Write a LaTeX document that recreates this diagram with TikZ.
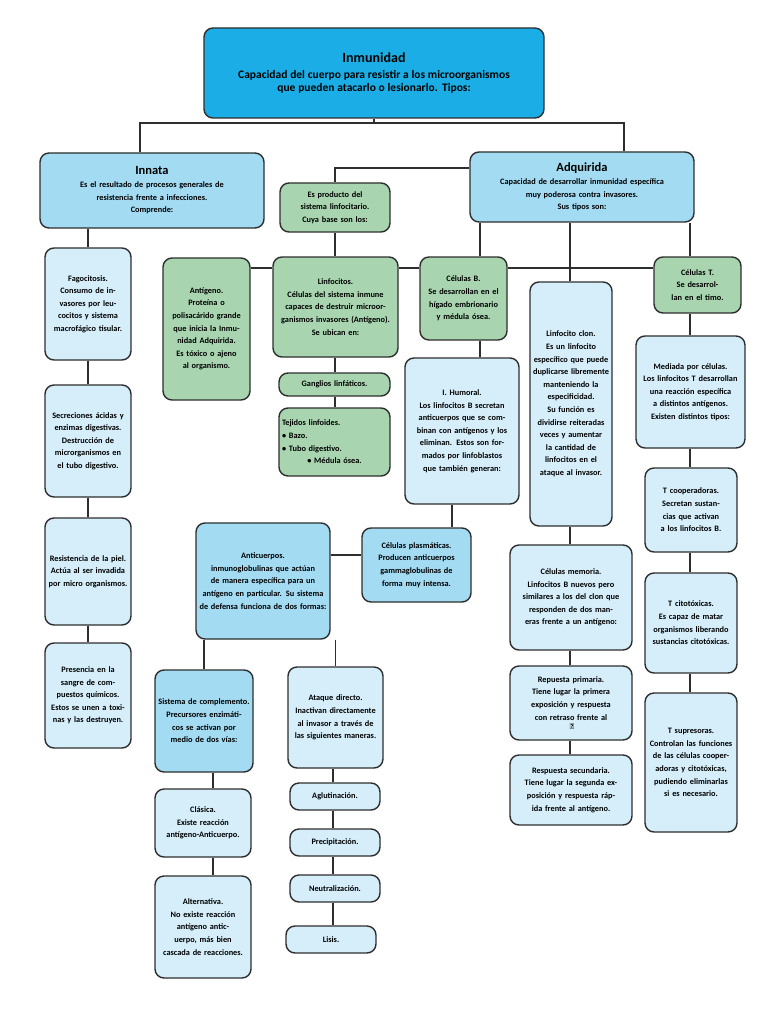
\documentclass[tikz,border=0pt]{standalone}
\usepackage{fontspec}
\setmainfont{Carlito}
\definecolor{top}{HTML}{1BAEE6}
\definecolor{mid}{HTML}{A3DBF2}
\definecolor{lt}{HTML}{D5EEFA}
\definecolor{grn}{HTML}{A8D5B0}
\definecolor{brd}{HTML}{2E2E2E}
\newcommand\bx[7]{\pgfmathsetmacro\tw{#4-#2-6}\node[box,fill=#6,minimum width={(#4-#2)*1pt},minimum height={(#5-#3)*1pt},text width=\tw pt] (#1) at ({(#2+#4)/2},{(#3+#5)/2}) {#7};}
\begin{document}
\begin{tikzpicture}[x=1pt,y=-1pt,
 box/.style={draw=brd,line width=1.4pt,rounded corners=9pt,align=center,inner sep=2pt,font=\bfseries\fontsize{8.3}{12.6}\selectfont},
 ln/.style={draw=brd,line width=1.3pt}]
\useasboundingbox (0,0) rectangle (768,1024);
\fill[white] (0,0) rectangle (768,1024);
\bx{imm}{204}{28}{544}{118}{top}{{\fontsize{14}{18}\selectfont Inmunidad}\\[2pt]{\fontsize{11.5}{14}\selectfont Capacidad del cuerpo para resistir a los microorganismos\\que pueden atacarlo o lesionarlo. Tipos:}}
\bx{inn}{40}{153}{264}{228}{mid}{{\fontsize{12.5}{15}\selectfont Innata}\\Es el resultado de procesos generales de\\resistencia frente a infecciones.\\Comprende:}
\bx{adq}{470}{152}{694}{222}{mid}{{\fontsize{12.5}{15}\selectfont Adquirida}\\Capacidad de desarrollar inmunidad específica\\muy poderosa contra invasores.\\Sus tipos son:}
\bx{pro}{280}{183}{390}{232}{grn}{Es producto del\\sistema linfocitario.\\Cuya base son los:}
\bx{fag}{45}{248}{131}{360}{lt}{Fagocitosis.\\Consumo de invasores por leucocitos y sistema macrofágico tisular.}
\bx{sec}{45}{385}{131}{497}{lt}{Secreciones ácidas y enzimas digestivas.\\Destrucción de microrganismos en el tubo digestivo.}
\bx{res}{45}{518}{131}{625}{lt}{Resistencia de la piel.\\Actúa al ser invadida por micro organismos.}
\bx{pre}{45}{643}{131}{748}{lt}{Presencia en la sangre de compuestos químicos.\\Estos se unen a toxinas y las destruyen.}
\bx{ant}{163}{258}{250}{400}{grn}{Antígeno.\\Proteína o polisacárido grande que inicia la Inmunidad Adquirida. Es tóxico o ajeno al organismo.}
\bx{lin}{273}{257}{398}{357}{grn}{Linfocitos.\\Células del sistema inmune capaces de destruir microorganismos invasores (Antígeno).\\Se ubican en:}
\bx{gan}{279}{373}{390}{396}{grn}{\raggedright Ganglios linfáticos.}
\bx{tej}{279}{408}{390}{476}{grn}{\raggedright Tejidos linfoides.\\\textbullet\ Bazo.\\\textbullet\ Tubo digestivo.\\\textbullet\ Médula ósea.}
\bx{cb}{420}{257}{507}{340}{grn}{Células B.\\Se desarrollan en el hígado embrionario y médula ósea.}
\bx{hum}{405}{358}{519}{504}{lt}{I. Humoral.\\Los linfocitos B secretan anticuerpos que se combinan con antígenos y los eliminan. Estos son formados por linfoblastos que también generan:}
\bx{clo}{530}{282}{612}{526}{lt}{Linfocito clon.\\Es un linfocito específico que puede duplicarse libremente manteniendo la especificidad.\\Su función es dividirse reiteradas veces y aumentar la cantidad de linfocitos en el ataque al invasor.}
\bx{ct}{654}{257}{741}{313}{grn}{Células T.\\Se desarrollan en el timo.}
\bx{med}{636}{336}{745}{448}{lt}{Mediada por células.\\Los linfocitos T desarrollan una reacción específica a distintos antígenos.\\Existen distintos tipos:}
\bx{tco}{645}{468}{737}{552}{lt}{T cooperadoras.\\Secretan sustancias que activan a los linfocitos B.}
\bx{tci}{645}{573}{737}{673}{lt}{T citotóxicas.\\Es capaz de matar organismos liberando sustancias citotóxicas.}
\bx{tsu}{645}{693}{737}{832}{lt}{T supresoras.\\Controlan las funciones de las células cooperadoras y citotóxicas, pudiendo eliminarlas si es necesario.}
\bx{mem}{510}{545}{632}{650}{lt}{Células memoria.\\Linfocitos B nuevos pero similares a los del clon que responden de dos maneras frente a un antígeno:}
\bx{rp}{510}{666}{632}{740}{lt}{Repuesta primaria.\\Tiene lugar la primera exposición y respuesta con retraso frente al\\[-3pt]\'{}}
\bx{rs}{510}{755}{632}{825}{lt}{Respuesta secundaria.\\Tiene lugar la segunda exposición y respuesta rápida frente al antígeno.}
\bx{acu}{196}{523}{330}{639}{mid}{Anticuerpos.\\inmunoglobulinas que actúan de manera específica para un antígeno en particular. Su sistema de defensa funciona de dos formas:}
\bx{pla}{362}{528}{471}{602}{mid}{Células plasmáticas.\\Producen anticuerpos gammaglobulinas de forma muy intensa.}
\bx{sis}{155}{670}{253}{772}{mid}{Sistema de complemento.\\Precursores enzimáticos se activan por medio de dos vías:}
\bx{ata}{288}{667}{383}{768}{lt}{Ataque directo.\\Inactivan directamente al invasor a través de las siguientes maneras.}
\bx{cla}{155}{789}{251}{857}{lt}{Clásica.\\Existe reacción antígeno-Anticuerpo.}
\bx{alt}{155}{876}{251}{978}{lt}{Alternativa.\\No existe reacción antígeno anticuerpo, más bien cascada de reacciones.}
\bx{agl}{290}{783}{380}{810}{lt}{Aglutinación.}
\bx{prc}{290}{829}{380}{856}{lt}{Precipitación.}
\bx{neu}{290}{875}{380}{902}{lt}{Neutralización.}
\bx{lis}{286}{926}{376}{953}{lt}{Lisis.}
\coordinate (xi) at (140,0); \coordinate (xa) at (624,0); \coordinate (xp) at (335,0);
\coordinate (xb) at (480,0); \coordinate (xc) at (570,0); \coordinate (xt) at (690,0);
\coordinate (xh) at (452,0); \coordinate (xs) at (213,0); \coordinate (xd) at (333,0);
\coordinate (xf) at (88,0); \coordinate (h) at (0,268); \coordinate (hp) at (0,555);
\coordinate (ha) at (0,123); \coordinate (hq) at (0,168);
\draw[ln] (imm.south) -- (imm.south |- ha) -- (xi |- ha) -- (inn.north -| xi);
\draw[ln] (imm.south |- ha) -- (xa |- ha) -- (adq.north -| xa);
\draw[ln] (adq.west |- hq) -- (xp |- hq) -- (pro.north -| xp);
\draw[ln] (pro.south -| xp) -- (lin.north -| xp);
\draw[ln] (lin.south -| xp) -- (gan.north -| xp);
\draw[ln] (gan.south -| xp) -- (tej.north -| xp);
\draw[ln] (ant.east |- h) -- (lin.west |- h);
\draw[ln] (lin.east |- h) -- (cb.west |- h);
\draw[ln] (cb.east |- h) -- (ct.west |- h);
\draw[ln] (adq.south -| xb) -- (cb.north -| xb);
\draw[ln] (adq.south -| xc) -- (clo.north -| xc);
\draw[ln] (adq.south -| xt) -- (ct.north -| xt);
\draw[ln] (inn.south -| xf) -- (fag.north -| xf);
\draw[ln] (fag.south -| xf) -- (sec.north -| xf);
\draw[ln] (sec.south -| xf) -- (res.north -| xf);
\draw[ln] (res.south -| xf) -- (pre.north -| xf);
\draw[ln] (cb.south -| xb) -- (hum.north -| xb);
\draw[ln] (hum.south -| xh) -- (pla.north -| xh);
\draw[ln] (pla.west |- hp) -- (acu.east |- hp);
\draw[ln] (acu.south -| sis) -- (sis.north);
\draw[ln] (acu.south -| ata) -- (ata.north);
\draw[ln] (sis.south -| xs) -- (cla.north -| xs);
\draw[ln] (cla.south -| xs) -- (alt.north -| xs);
\draw[ln] (ata.south -| xd) -- (agl.north -| xd);
\draw[ln] (agl.south -| xd) -- (prc.north -| xd);
\draw[ln] (prc.south -| xd) -- (neu.north -| xd);
\draw[ln] (neu.south -| xd) -- (lis.north -| xd);
\draw[ln] (clo.south -| xc) -- (mem.north -| xc);
\draw[ln] (mem.south -| xc) -- (rp.north -| xc);
\draw[ln] (rp.south -| xc) -- (rs.north -| xc);
\draw[ln] (ct.south -| xt) -- (med.north -| xt);
\draw[ln] (med.south -| xt) -- (tco.north -| xt);
\draw[ln] (tco.south -| xt) -- (tci.north -| xt);
\draw[ln] (tci.south -| xt) -- (tsu.north -| xt);
\end{tikzpicture}
\end{document}
